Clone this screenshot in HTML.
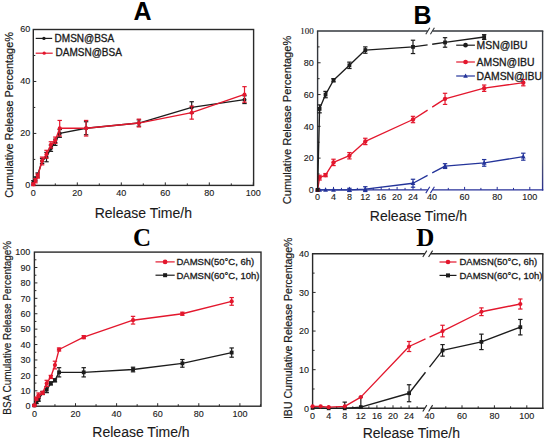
<!DOCTYPE html>
<html><head><meta charset="utf-8"><title>Release profiles</title>
<style>html,body{margin:0;padding:0;background:#fff;width:548px;height:442px;overflow:hidden}svg{display:block}</style>
</head><body>
<svg width="548" height="442" viewBox="0 0 548 442">
<rect width="548" height="442" fill="#ffffff"/>
<rect x="33.3" y="29.5" width="220.3" height="155.9" fill="none" stroke="#2a2a2a" stroke-width="1.4"/>
<line x1="33.3" y1="185.4" x2="33.3" y2="182.4" stroke="#2a2a2a" stroke-width="1.0" />
<line x1="77.3" y1="185.4" x2="77.3" y2="182.4" stroke="#2a2a2a" stroke-width="1.0" />
<line x1="121.3" y1="185.4" x2="121.3" y2="182.4" stroke="#2a2a2a" stroke-width="1.0" />
<line x1="165.3" y1="185.4" x2="165.3" y2="182.4" stroke="#2a2a2a" stroke-width="1.0" />
<line x1="209.3" y1="185.4" x2="209.3" y2="182.4" stroke="#2a2a2a" stroke-width="1.0" />
<line x1="253.3" y1="185.4" x2="253.3" y2="182.4" stroke="#2a2a2a" stroke-width="1.0" />
<line x1="55.3" y1="185.4" x2="55.3" y2="183.4" stroke="#2a2a2a" stroke-width="1.0" />
<line x1="99.3" y1="185.4" x2="99.3" y2="183.4" stroke="#2a2a2a" stroke-width="1.0" />
<line x1="143.3" y1="185.4" x2="143.3" y2="183.4" stroke="#2a2a2a" stroke-width="1.0" />
<line x1="187.3" y1="185.4" x2="187.3" y2="183.4" stroke="#2a2a2a" stroke-width="1.0" />
<line x1="231.3" y1="185.4" x2="231.3" y2="183.4" stroke="#2a2a2a" stroke-width="1.0" />
<line x1="33.3" y1="133.43" x2="36.3" y2="133.43" stroke="#2a2a2a" stroke-width="1.0" />
<line x1="33.3" y1="81.47" x2="36.3" y2="81.47" stroke="#2a2a2a" stroke-width="1.0" />
<line x1="33.3" y1="159.42" x2="35.3" y2="159.42" stroke="#2a2a2a" stroke-width="1.0" />
<line x1="33.3" y1="107.45" x2="35.3" y2="107.45" stroke="#2a2a2a" stroke-width="1.0" />
<line x1="33.3" y1="55.48" x2="35.3" y2="55.48" stroke="#2a2a2a" stroke-width="1.0" />
<text x="33.3" y="196.2" font-size="9" text-anchor="middle" font-family='"Liberation Sans", sans-serif' font-weight="normal" fill="#1a1a1a" stroke="#1a1a1a" stroke-width="0.12" >0</text>
<text x="77.3" y="196.2" font-size="9" text-anchor="middle" font-family='"Liberation Sans", sans-serif' font-weight="normal" fill="#1a1a1a" stroke="#1a1a1a" stroke-width="0.12" >20</text>
<text x="121.3" y="196.2" font-size="9" text-anchor="middle" font-family='"Liberation Sans", sans-serif' font-weight="normal" fill="#1a1a1a" stroke="#1a1a1a" stroke-width="0.12" >40</text>
<text x="165.3" y="196.2" font-size="9" text-anchor="middle" font-family='"Liberation Sans", sans-serif' font-weight="normal" fill="#1a1a1a" stroke="#1a1a1a" stroke-width="0.12" >60</text>
<text x="209.3" y="196.2" font-size="9" text-anchor="middle" font-family='"Liberation Sans", sans-serif' font-weight="normal" fill="#1a1a1a" stroke="#1a1a1a" stroke-width="0.12" >80</text>
<text x="253.3" y="196.2" font-size="9" text-anchor="middle" font-family='"Liberation Sans", sans-serif' font-weight="normal" fill="#1a1a1a" stroke="#1a1a1a" stroke-width="0.12" >100</text>
<text x="30.2" y="188.1" font-size="9" text-anchor="end" font-family='"Liberation Sans", sans-serif' font-weight="normal" fill="#1a1a1a" stroke="#1a1a1a" stroke-width="0.12" >0</text>
<text x="30.2" y="136.13" font-size="9" text-anchor="end" font-family='"Liberation Sans", sans-serif' font-weight="normal" fill="#1a1a1a" stroke="#1a1a1a" stroke-width="0.12" >20</text>
<text x="30.2" y="84.17" font-size="9" text-anchor="end" font-family='"Liberation Sans", sans-serif' font-weight="normal" fill="#1a1a1a" stroke="#1a1a1a" stroke-width="0.12" >40</text>
<text x="30.2" y="32.2" font-size="9" text-anchor="end" font-family='"Liberation Sans", sans-serif' font-weight="normal" fill="#1a1a1a" stroke="#1a1a1a" stroke-width="0.12" >60</text>
<text x="142.5" y="19.7" font-size="25" text-anchor="middle" font-family='"Liberation Sans", sans-serif' font-weight="bold" fill="#000" >A</text>
<text x="143.3" y="218.3" font-size="14" text-anchor="middle" font-family='"Liberation Sans", sans-serif' font-weight="normal" fill="#1a1a1a" stroke="#1a1a1a" stroke-width="0.1" >Release Time/h</text>
<text transform="translate(12.6,115) rotate(-90) scale(0.96,1)" font-size="11.34" text-anchor="middle" font-family='"Liberation Sans", sans-serif' fill="#1a1a1a" stroke="#1a1a1a" stroke-width="0.2">Cumulative Release Percentage%</text>
<polyline points="33.3,182.8 35.5,178.9 37.7,175.01 42.1,160.98 46.5,157.08 50.9,148.24 55.3,142.27 59.7,133.43 86.1,128.24 138.9,123.04 191.7,107.45 244.5,99.66" fill="none" stroke="#1c1c1c" stroke-width="1.35" stroke-linejoin="round"/>
<line x1="33.3" y1="184.88" x2="33.3" y2="180.72" stroke="#1c1c1c" stroke-width="1.2" />
<line x1="31.1" y1="184.88" x2="35.5" y2="184.88" stroke="#1c1c1c" stroke-width="1.2" />
<line x1="31.1" y1="180.72" x2="35.5" y2="180.72" stroke="#1c1c1c" stroke-width="1.2" />
<line x1="35.5" y1="180.98" x2="35.5" y2="176.83" stroke="#1c1c1c" stroke-width="1.2" />
<line x1="33.3" y1="180.98" x2="37.7" y2="180.98" stroke="#1c1c1c" stroke-width="1.2" />
<line x1="33.3" y1="176.83" x2="37.7" y2="176.83" stroke="#1c1c1c" stroke-width="1.2" />
<line x1="37.7" y1="177.09" x2="37.7" y2="172.93" stroke="#1c1c1c" stroke-width="1.2" />
<line x1="35.5" y1="177.09" x2="39.9" y2="177.09" stroke="#1c1c1c" stroke-width="1.2" />
<line x1="35.5" y1="172.93" x2="39.9" y2="172.93" stroke="#1c1c1c" stroke-width="1.2" />
<line x1="42.1" y1="163.57" x2="42.1" y2="158.38" stroke="#1c1c1c" stroke-width="1.2" />
<line x1="39.9" y1="163.57" x2="44.3" y2="163.57" stroke="#1c1c1c" stroke-width="1.2" />
<line x1="39.9" y1="158.38" x2="44.3" y2="158.38" stroke="#1c1c1c" stroke-width="1.2" />
<line x1="46.5" y1="161.76" x2="46.5" y2="152.4" stroke="#1c1c1c" stroke-width="1.2" />
<line x1="44.3" y1="161.76" x2="48.7" y2="161.76" stroke="#1c1c1c" stroke-width="1.2" />
<line x1="44.3" y1="152.4" x2="48.7" y2="152.4" stroke="#1c1c1c" stroke-width="1.2" />
<line x1="50.9" y1="151.36" x2="50.9" y2="145.13" stroke="#1c1c1c" stroke-width="1.2" />
<line x1="48.7" y1="151.36" x2="53.1" y2="151.36" stroke="#1c1c1c" stroke-width="1.2" />
<line x1="48.7" y1="145.13" x2="53.1" y2="145.13" stroke="#1c1c1c" stroke-width="1.2" />
<line x1="55.3" y1="145.39" x2="55.3" y2="139.15" stroke="#1c1c1c" stroke-width="1.2" />
<line x1="53.1" y1="145.39" x2="57.5" y2="145.39" stroke="#1c1c1c" stroke-width="1.2" />
<line x1="53.1" y1="139.15" x2="57.5" y2="139.15" stroke="#1c1c1c" stroke-width="1.2" />
<line x1="59.7" y1="137.33" x2="59.7" y2="129.54" stroke="#1c1c1c" stroke-width="1.2" />
<line x1="57.5" y1="137.33" x2="61.9" y2="137.33" stroke="#1c1c1c" stroke-width="1.2" />
<line x1="57.5" y1="129.54" x2="61.9" y2="129.54" stroke="#1c1c1c" stroke-width="1.2" />
<line x1="86.1" y1="134.73" x2="86.1" y2="121.74" stroke="#1c1c1c" stroke-width="1.2" />
<line x1="83.9" y1="134.73" x2="88.3" y2="134.73" stroke="#1c1c1c" stroke-width="1.2" />
<line x1="83.9" y1="121.74" x2="88.3" y2="121.74" stroke="#1c1c1c" stroke-width="1.2" />
<line x1="138.9" y1="126.16" x2="138.9" y2="119.92" stroke="#1c1c1c" stroke-width="1.2" />
<line x1="136.7" y1="126.16" x2="141.1" y2="126.16" stroke="#1c1c1c" stroke-width="1.2" />
<line x1="136.7" y1="119.92" x2="141.1" y2="119.92" stroke="#1c1c1c" stroke-width="1.2" />
<line x1="191.7" y1="113.17" x2="191.7" y2="101.73" stroke="#1c1c1c" stroke-width="1.2" />
<line x1="189.5" y1="113.17" x2="193.9" y2="113.17" stroke="#1c1c1c" stroke-width="1.2" />
<line x1="189.5" y1="101.73" x2="193.9" y2="101.73" stroke="#1c1c1c" stroke-width="1.2" />
<line x1="244.5" y1="103.55" x2="244.5" y2="95.76" stroke="#1c1c1c" stroke-width="1.2" />
<line x1="242.3" y1="103.55" x2="246.7" y2="103.55" stroke="#1c1c1c" stroke-width="1.2" />
<line x1="242.3" y1="95.76" x2="246.7" y2="95.76" stroke="#1c1c1c" stroke-width="1.2" />
<circle cx="33.3" cy="182.8" r="2.0" fill="#1c1c1c"/>
<circle cx="35.5" cy="178.9" r="2.0" fill="#1c1c1c"/>
<circle cx="37.7" cy="175.01" r="2.0" fill="#1c1c1c"/>
<circle cx="42.1" cy="160.98" r="2.0" fill="#1c1c1c"/>
<circle cx="46.5" cy="157.08" r="2.0" fill="#1c1c1c"/>
<circle cx="50.9" cy="148.24" r="2.0" fill="#1c1c1c"/>
<circle cx="55.3" cy="142.27" r="2.0" fill="#1c1c1c"/>
<circle cx="59.7" cy="133.43" r="2.0" fill="#1c1c1c"/>
<circle cx="86.1" cy="128.24" r="2.0" fill="#1c1c1c"/>
<circle cx="138.9" cy="123.04" r="2.0" fill="#1c1c1c"/>
<circle cx="191.7" cy="107.45" r="2.0" fill="#1c1c1c"/>
<circle cx="244.5" cy="99.66" r="2.0" fill="#1c1c1c"/>
<polyline points="33.3,184.36 35.5,180.72 37.7,176.05 42.1,160.98 46.5,154.22 50.9,144.87 55.3,140.19 59.7,128.24 86.1,128.24 138.9,123.04 191.7,112.65 244.5,94.46" fill="none" stroke="#e3172d" stroke-width="1.35" stroke-linejoin="round"/>
<line x1="33.3" y1="185.66" x2="33.3" y2="183.06" stroke="#e3172d" stroke-width="1.2" />
<line x1="31.1" y1="185.66" x2="35.5" y2="185.66" stroke="#e3172d" stroke-width="1.2" />
<line x1="31.1" y1="183.06" x2="35.5" y2="183.06" stroke="#e3172d" stroke-width="1.2" />
<line x1="35.5" y1="182.8" x2="35.5" y2="178.64" stroke="#e3172d" stroke-width="1.2" />
<line x1="33.3" y1="182.8" x2="37.7" y2="182.8" stroke="#e3172d" stroke-width="1.2" />
<line x1="33.3" y1="178.64" x2="37.7" y2="178.64" stroke="#e3172d" stroke-width="1.2" />
<line x1="37.7" y1="178.12" x2="37.7" y2="173.97" stroke="#e3172d" stroke-width="1.2" />
<line x1="35.5" y1="178.12" x2="39.9" y2="178.12" stroke="#e3172d" stroke-width="1.2" />
<line x1="35.5" y1="173.97" x2="39.9" y2="173.97" stroke="#e3172d" stroke-width="1.2" />
<line x1="42.1" y1="164.87" x2="42.1" y2="157.08" stroke="#e3172d" stroke-width="1.2" />
<line x1="39.9" y1="164.87" x2="44.3" y2="164.87" stroke="#e3172d" stroke-width="1.2" />
<line x1="39.9" y1="157.08" x2="44.3" y2="157.08" stroke="#e3172d" stroke-width="1.2" />
<line x1="46.5" y1="158.12" x2="46.5" y2="150.32" stroke="#e3172d" stroke-width="1.2" />
<line x1="44.3" y1="158.12" x2="48.7" y2="158.12" stroke="#e3172d" stroke-width="1.2" />
<line x1="44.3" y1="150.32" x2="48.7" y2="150.32" stroke="#e3172d" stroke-width="1.2" />
<line x1="50.9" y1="147.98" x2="50.9" y2="141.75" stroke="#e3172d" stroke-width="1.2" />
<line x1="48.7" y1="147.98" x2="53.1" y2="147.98" stroke="#e3172d" stroke-width="1.2" />
<line x1="48.7" y1="141.75" x2="53.1" y2="141.75" stroke="#e3172d" stroke-width="1.2" />
<line x1="55.3" y1="143.31" x2="55.3" y2="137.07" stroke="#e3172d" stroke-width="1.2" />
<line x1="53.1" y1="143.31" x2="57.5" y2="143.31" stroke="#e3172d" stroke-width="1.2" />
<line x1="53.1" y1="137.07" x2="57.5" y2="137.07" stroke="#e3172d" stroke-width="1.2" />
<line x1="59.7" y1="136.03" x2="59.7" y2="120.44" stroke="#e3172d" stroke-width="1.2" />
<line x1="57.5" y1="136.03" x2="61.9" y2="136.03" stroke="#e3172d" stroke-width="1.2" />
<line x1="57.5" y1="120.44" x2="61.9" y2="120.44" stroke="#e3172d" stroke-width="1.2" />
<line x1="86.1" y1="136.03" x2="86.1" y2="120.44" stroke="#e3172d" stroke-width="1.2" />
<line x1="83.9" y1="136.03" x2="88.3" y2="136.03" stroke="#e3172d" stroke-width="1.2" />
<line x1="83.9" y1="120.44" x2="88.3" y2="120.44" stroke="#e3172d" stroke-width="1.2" />
<line x1="138.9" y1="126.94" x2="138.9" y2="119.14" stroke="#e3172d" stroke-width="1.2" />
<line x1="136.7" y1="126.94" x2="141.1" y2="126.94" stroke="#e3172d" stroke-width="1.2" />
<line x1="136.7" y1="119.14" x2="141.1" y2="119.14" stroke="#e3172d" stroke-width="1.2" />
<line x1="191.7" y1="119.14" x2="191.7" y2="106.15" stroke="#e3172d" stroke-width="1.2" />
<line x1="189.5" y1="119.14" x2="193.9" y2="119.14" stroke="#e3172d" stroke-width="1.2" />
<line x1="189.5" y1="106.15" x2="193.9" y2="106.15" stroke="#e3172d" stroke-width="1.2" />
<line x1="244.5" y1="102.25" x2="244.5" y2="86.66" stroke="#e3172d" stroke-width="1.2" />
<line x1="242.3" y1="102.25" x2="246.7" y2="102.25" stroke="#e3172d" stroke-width="1.2" />
<line x1="242.3" y1="86.66" x2="246.7" y2="86.66" stroke="#e3172d" stroke-width="1.2" />
<circle cx="33.3" cy="184.36" r="2.0" fill="#e3172d"/>
<circle cx="35.5" cy="180.72" r="2.0" fill="#e3172d"/>
<circle cx="37.7" cy="176.05" r="2.0" fill="#e3172d"/>
<circle cx="42.1" cy="160.98" r="2.0" fill="#e3172d"/>
<circle cx="46.5" cy="154.22" r="2.0" fill="#e3172d"/>
<circle cx="50.9" cy="144.87" r="2.0" fill="#e3172d"/>
<circle cx="55.3" cy="140.19" r="2.0" fill="#e3172d"/>
<circle cx="59.7" cy="128.24" r="2.0" fill="#e3172d"/>
<circle cx="86.1" cy="128.24" r="2.0" fill="#e3172d"/>
<circle cx="138.9" cy="123.04" r="2.0" fill="#e3172d"/>
<circle cx="191.7" cy="112.65" r="2.0" fill="#e3172d"/>
<circle cx="244.5" cy="94.46" r="2.0" fill="#e3172d"/>
<line x1="35.7" y1="38.4" x2="52.2" y2="38.4" stroke="#1c1c1c" stroke-width="1.2" />
<circle cx="43.95" cy="38.4" r="1.65" fill="#1c1c1c"/>
<text x="54.6" y="41.6" font-size="10.0" text-anchor="start" font-family='"Liberation Sans", sans-serif' font-weight="normal" fill="#1a1a1a" stroke="#1a1a1a" stroke-width="0.3" >DMSN@BSA</text>
<line x1="35.7" y1="53.2" x2="52.7" y2="53.2" stroke="#e3172d" stroke-width="1.2" />
<circle cx="44.2" cy="53.2" r="1.65" fill="#e3172d"/>
<text x="55.6" y="56.4" font-size="10.0" text-anchor="start" font-family='"Liberation Sans", sans-serif' font-weight="normal" fill="#1a1a1a" stroke="#1a1a1a" stroke-width="0.3" >DAMSN@BSA</text>
<defs><linearGradient id="gr" gradientUnits="userSpaceOnUse" x1="0" y1="31" x2="0" y2="190"><stop offset="0" stop-color="#3a3e44"/><stop offset="0.78" stop-color="#55595f"/><stop offset="1" stop-color="#2a3090"/></linearGradient></defs>
<line x1="317.6" y1="31" x2="317.6" y2="189.9" stroke="#33373c" stroke-width="1.4" />
<line x1="542.6" y1="31" x2="542.6" y2="190.6" stroke="url(#gr)" stroke-width="1.4" />
<line x1="316.9" y1="31" x2="427.8" y2="31" stroke="#33373c" stroke-width="1.4" />
<line x1="432.4" y1="31" x2="543.3" y2="31" stroke="#33373c" stroke-width="1.4" />
<line x1="425.8" y1="34.2" x2="429.8" y2="27.8" stroke="#33373c" stroke-width="1.1"/>
<line x1="430.4" y1="34.2" x2="434.4" y2="27.8" stroke="#33373c" stroke-width="1.1"/>
<line x1="316.9" y1="189.9" x2="427.8" y2="189.9" stroke="#27309a" stroke-width="1.4" />
<line x1="432.4" y1="189.9" x2="543.3" y2="189.9" stroke="#27309a" stroke-width="1.4" />
<line x1="425.8" y1="193.1" x2="429.8" y2="186.7" stroke="#27309a" stroke-width="1.1"/>
<line x1="430.4" y1="193.1" x2="434.4" y2="186.7" stroke="#27309a" stroke-width="1.1"/>
<line x1="333.5" y1="189.9" x2="333.5" y2="186.9" stroke="#27309a" stroke-width="1.0" />
<line x1="349.4" y1="189.9" x2="349.4" y2="186.9" stroke="#27309a" stroke-width="1.0" />
<line x1="365.3" y1="189.9" x2="365.3" y2="186.9" stroke="#27309a" stroke-width="1.0" />
<line x1="381.2" y1="189.9" x2="381.2" y2="186.9" stroke="#27309a" stroke-width="1.0" />
<line x1="397.1" y1="189.9" x2="397.1" y2="186.9" stroke="#27309a" stroke-width="1.0" />
<line x1="413" y1="189.9" x2="413" y2="186.9" stroke="#27309a" stroke-width="1.0" />
<line x1="464.6" y1="189.9" x2="464.6" y2="186.9" stroke="#27309a" stroke-width="1.0" />
<line x1="497.2" y1="189.9" x2="497.2" y2="186.9" stroke="#27309a" stroke-width="1.0" />
<line x1="529.8" y1="189.9" x2="529.8" y2="186.9" stroke="#27309a" stroke-width="1.0" />
<line x1="325.55" y1="189.9" x2="325.55" y2="187.9" stroke="#27309a" stroke-width="1.0" />
<line x1="341.45" y1="189.9" x2="341.45" y2="187.9" stroke="#27309a" stroke-width="1.0" />
<line x1="357.35" y1="189.9" x2="357.35" y2="187.9" stroke="#27309a" stroke-width="1.0" />
<line x1="373.25" y1="189.9" x2="373.25" y2="187.9" stroke="#27309a" stroke-width="1.0" />
<line x1="389.15" y1="189.9" x2="389.15" y2="187.9" stroke="#27309a" stroke-width="1.0" />
<line x1="405.05" y1="189.9" x2="405.05" y2="187.9" stroke="#27309a" stroke-width="1.0" />
<line x1="420.95" y1="189.9" x2="420.95" y2="187.9" stroke="#27309a" stroke-width="1.0" />
<line x1="448.3" y1="189.9" x2="448.3" y2="187.9" stroke="#27309a" stroke-width="1.0" />
<line x1="480.9" y1="189.9" x2="480.9" y2="187.9" stroke="#27309a" stroke-width="1.0" />
<line x1="513.5" y1="189.9" x2="513.5" y2="187.9" stroke="#27309a" stroke-width="1.0" />
<line x1="317.6" y1="158.12" x2="320.6" y2="158.12" stroke="#2a2a2a" stroke-width="1.0" />
<line x1="317.6" y1="126.34" x2="320.6" y2="126.34" stroke="#2a2a2a" stroke-width="1.0" />
<line x1="317.6" y1="94.56" x2="320.6" y2="94.56" stroke="#2a2a2a" stroke-width="1.0" />
<line x1="317.6" y1="62.78" x2="320.6" y2="62.78" stroke="#2a2a2a" stroke-width="1.0" />
<line x1="317.6" y1="174.01" x2="319.6" y2="174.01" stroke="#2a2a2a" stroke-width="1.0" />
<line x1="317.6" y1="142.23" x2="319.6" y2="142.23" stroke="#2a2a2a" stroke-width="1.0" />
<line x1="317.6" y1="110.45" x2="319.6" y2="110.45" stroke="#2a2a2a" stroke-width="1.0" />
<line x1="317.6" y1="78.67" x2="319.6" y2="78.67" stroke="#2a2a2a" stroke-width="1.0" />
<line x1="317.6" y1="46.89" x2="319.6" y2="46.89" stroke="#2a2a2a" stroke-width="1.0" />
<text x="317.6" y="199.6" font-size="9" text-anchor="middle" font-family='"Liberation Sans", sans-serif' font-weight="normal" fill="#1a1a1a" stroke="#1a1a1a" stroke-width="0.12" >0</text>
<text x="333.5" y="199.6" font-size="9" text-anchor="middle" font-family='"Liberation Sans", sans-serif' font-weight="normal" fill="#1a1a1a" stroke="#1a1a1a" stroke-width="0.12" >4</text>
<text x="349.4" y="199.6" font-size="9" text-anchor="middle" font-family='"Liberation Sans", sans-serif' font-weight="normal" fill="#1a1a1a" stroke="#1a1a1a" stroke-width="0.12" >8</text>
<text x="365.3" y="199.6" font-size="9" text-anchor="middle" font-family='"Liberation Sans", sans-serif' font-weight="normal" fill="#1a1a1a" stroke="#1a1a1a" stroke-width="0.12" >12</text>
<text x="381.2" y="199.6" font-size="9" text-anchor="middle" font-family='"Liberation Sans", sans-serif' font-weight="normal" fill="#1a1a1a" stroke="#1a1a1a" stroke-width="0.12" >16</text>
<text x="397.1" y="199.6" font-size="9" text-anchor="middle" font-family='"Liberation Sans", sans-serif' font-weight="normal" fill="#1a1a1a" stroke="#1a1a1a" stroke-width="0.12" >20</text>
<text x="413" y="199.6" font-size="9" text-anchor="middle" font-family='"Liberation Sans", sans-serif' font-weight="normal" fill="#1a1a1a" stroke="#1a1a1a" stroke-width="0.12" >24</text>
<text x="432" y="199.6" font-size="9" text-anchor="middle" font-family='"Liberation Sans", sans-serif' font-weight="normal" fill="#1a1a1a" stroke="#1a1a1a" stroke-width="0.12" >40</text>
<text x="464.6" y="199.6" font-size="9" text-anchor="middle" font-family='"Liberation Sans", sans-serif' font-weight="normal" fill="#1a1a1a" stroke="#1a1a1a" stroke-width="0.12" >60</text>
<text x="497.2" y="199.6" font-size="9" text-anchor="middle" font-family='"Liberation Sans", sans-serif' font-weight="normal" fill="#1a1a1a" stroke="#1a1a1a" stroke-width="0.12" >80</text>
<text x="529.8" y="199.6" font-size="9" text-anchor="middle" font-family='"Liberation Sans", sans-serif' font-weight="normal" fill="#1a1a1a" stroke="#1a1a1a" stroke-width="0.12" >100</text>
<text x="313.8" y="193.1" font-size="9" text-anchor="end" font-family='"Liberation Sans", sans-serif' font-weight="normal" fill="#1a1a1a" stroke="#1a1a1a" stroke-width="0.12" >0</text>
<text x="313.8" y="161.32" font-size="9" text-anchor="end" font-family='"Liberation Sans", sans-serif' font-weight="normal" fill="#1a1a1a" stroke="#1a1a1a" stroke-width="0.12" >20</text>
<text x="313.8" y="129.54" font-size="9" text-anchor="end" font-family='"Liberation Sans", sans-serif' font-weight="normal" fill="#1a1a1a" stroke="#1a1a1a" stroke-width="0.12" >40</text>
<text x="313.8" y="97.76" font-size="9" text-anchor="end" font-family='"Liberation Sans", sans-serif' font-weight="normal" fill="#1a1a1a" stroke="#1a1a1a" stroke-width="0.12" >60</text>
<text x="313.8" y="65.98" font-size="9" text-anchor="end" font-family='"Liberation Sans", sans-serif' font-weight="normal" fill="#1a1a1a" stroke="#1a1a1a" stroke-width="0.12" >80</text>
<text x="313.8" y="34.2" font-size="9" text-anchor="end" font-family='"Liberation Serif", serif' font-weight="normal" fill="#1a1a1a" stroke="#1a1a1a" stroke-width="0.12" >100</text>
<text x="422.5" y="24.1" font-size="25" text-anchor="middle" font-family='"Liberation Sans", sans-serif' font-weight="bold" fill="#000" >B</text>
<text x="418.5" y="220.7" font-size="14" text-anchor="middle" font-family='"Liberation Sans", sans-serif' font-weight="normal" fill="#1a1a1a" stroke="#1a1a1a" stroke-width="0.1" >Release Time/h</text>
<text transform="translate(291.2,120) rotate(-90) scale(0.96,1)" font-size="11.54" text-anchor="middle" font-family='"Liberation Sans", sans-serif' fill="#1a1a1a" stroke="#1a1a1a" stroke-width="0.2">Cumulative Release Percentage%</text>
<polyline points="317.6,189.9 319.59,189.9 325.55,189.9 333.5,189.9 349.4,189.9 365.3,189.11 413,183.23 427.6,175.41" fill="none" stroke="#24349a" stroke-width="1.35" stroke-linejoin="round"/>
<polyline points="432.2,172.94 445.04,166.06 484.16,162.89 523.28,156.69" fill="none" stroke="#24349a" stroke-width="1.35" stroke-linejoin="round"/>
<line x1="349.4" y1="191.49" x2="349.4" y2="188.31" stroke="#24349a" stroke-width="1.2" />
<line x1="347.2" y1="191.49" x2="351.6" y2="191.49" stroke="#24349a" stroke-width="1.2" />
<line x1="347.2" y1="188.31" x2="351.6" y2="188.31" stroke="#24349a" stroke-width="1.2" />
<line x1="365.3" y1="191.49" x2="365.3" y2="186.72" stroke="#24349a" stroke-width="1.2" />
<line x1="363.1" y1="191.49" x2="367.5" y2="191.49" stroke="#24349a" stroke-width="1.2" />
<line x1="363.1" y1="186.72" x2="367.5" y2="186.72" stroke="#24349a" stroke-width="1.2" />
<line x1="413" y1="187.2" x2="413" y2="179.25" stroke="#24349a" stroke-width="1.2" />
<line x1="410.8" y1="187.2" x2="415.2" y2="187.2" stroke="#24349a" stroke-width="1.2" />
<line x1="410.8" y1="179.25" x2="415.2" y2="179.25" stroke="#24349a" stroke-width="1.2" />
<line x1="445.04" y1="168.45" x2="445.04" y2="163.68" stroke="#24349a" stroke-width="1.2" />
<line x1="442.84" y1="168.45" x2="447.24" y2="168.45" stroke="#24349a" stroke-width="1.2" />
<line x1="442.84" y1="163.68" x2="447.24" y2="163.68" stroke="#24349a" stroke-width="1.2" />
<line x1="484.16" y1="166.22" x2="484.16" y2="159.55" stroke="#24349a" stroke-width="1.2" />
<line x1="481.96" y1="166.22" x2="486.36" y2="166.22" stroke="#24349a" stroke-width="1.2" />
<line x1="481.96" y1="159.55" x2="486.36" y2="159.55" stroke="#24349a" stroke-width="1.2" />
<line x1="523.28" y1="160.19" x2="523.28" y2="153.19" stroke="#24349a" stroke-width="1.2" />
<line x1="521.08" y1="160.19" x2="525.48" y2="160.19" stroke="#24349a" stroke-width="1.2" />
<line x1="521.08" y1="153.19" x2="525.48" y2="153.19" stroke="#24349a" stroke-width="1.2" />
<polygon points="317.6,187.19 320,191.75 315.2,191.75" fill="#24349a"/>
<polygon points="319.59,187.19 321.99,191.75 317.19,191.75" fill="#24349a"/>
<polygon points="325.55,187.19 327.95,191.75 323.15,191.75" fill="#24349a"/>
<polygon points="333.5,187.19 335.9,191.75 331.1,191.75" fill="#24349a"/>
<polygon points="349.4,187.19 351.8,191.75 347,191.75" fill="#24349a"/>
<polygon points="365.3,186.4 367.7,190.95 362.9,190.95" fill="#24349a"/>
<polygon points="413,180.52 415.4,185.07 410.6,185.07" fill="#24349a"/>
<polygon points="445.04,163.35 447.44,167.91 442.64,167.91" fill="#24349a"/>
<polygon points="484.16,160.18 486.56,164.74 481.76,164.74" fill="#24349a"/>
<polygon points="523.28,153.98 525.68,158.54 520.88,158.54" fill="#24349a"/>
<polyline points="317.6,189.9 319.59,177.66 325.55,175.12 333.5,162.41 349.4,155.74 365.3,141.44 413,119.51 427.6,110.09" fill="none" stroke="#e3172d" stroke-width="1.35" stroke-linejoin="round"/>
<polyline points="432.2,107.13 445.04,98.85 484.16,88.2 523.28,82.64" fill="none" stroke="#e3172d" stroke-width="1.35" stroke-linejoin="round"/>
<line x1="319.59" y1="180.05" x2="319.59" y2="175.28" stroke="#e3172d" stroke-width="1.2" />
<line x1="317.39" y1="180.05" x2="321.79" y2="180.05" stroke="#e3172d" stroke-width="1.2" />
<line x1="317.39" y1="175.28" x2="321.79" y2="175.28" stroke="#e3172d" stroke-width="1.2" />
<line x1="325.55" y1="176.71" x2="325.55" y2="173.53" stroke="#e3172d" stroke-width="1.2" />
<line x1="323.35" y1="176.71" x2="327.75" y2="176.71" stroke="#e3172d" stroke-width="1.2" />
<line x1="323.35" y1="173.53" x2="327.75" y2="173.53" stroke="#e3172d" stroke-width="1.2" />
<line x1="333.5" y1="165.59" x2="333.5" y2="159.23" stroke="#e3172d" stroke-width="1.2" />
<line x1="331.3" y1="165.59" x2="335.7" y2="165.59" stroke="#e3172d" stroke-width="1.2" />
<line x1="331.3" y1="159.23" x2="335.7" y2="159.23" stroke="#e3172d" stroke-width="1.2" />
<line x1="349.4" y1="158.91" x2="349.4" y2="152.56" stroke="#e3172d" stroke-width="1.2" />
<line x1="347.2" y1="158.91" x2="351.6" y2="158.91" stroke="#e3172d" stroke-width="1.2" />
<line x1="347.2" y1="152.56" x2="351.6" y2="152.56" stroke="#e3172d" stroke-width="1.2" />
<line x1="365.3" y1="144.61" x2="365.3" y2="138.26" stroke="#e3172d" stroke-width="1.2" />
<line x1="363.1" y1="144.61" x2="367.5" y2="144.61" stroke="#e3172d" stroke-width="1.2" />
<line x1="363.1" y1="138.26" x2="367.5" y2="138.26" stroke="#e3172d" stroke-width="1.2" />
<line x1="413" y1="122.69" x2="413" y2="116.33" stroke="#e3172d" stroke-width="1.2" />
<line x1="410.8" y1="122.69" x2="415.2" y2="122.69" stroke="#e3172d" stroke-width="1.2" />
<line x1="410.8" y1="116.33" x2="415.2" y2="116.33" stroke="#e3172d" stroke-width="1.2" />
<line x1="445.04" y1="104.41" x2="445.04" y2="93.29" stroke="#e3172d" stroke-width="1.2" />
<line x1="442.84" y1="104.41" x2="447.24" y2="104.41" stroke="#e3172d" stroke-width="1.2" />
<line x1="442.84" y1="93.29" x2="447.24" y2="93.29" stroke="#e3172d" stroke-width="1.2" />
<line x1="484.16" y1="91.38" x2="484.16" y2="85.03" stroke="#e3172d" stroke-width="1.2" />
<line x1="481.96" y1="91.38" x2="486.36" y2="91.38" stroke="#e3172d" stroke-width="1.2" />
<line x1="481.96" y1="85.03" x2="486.36" y2="85.03" stroke="#e3172d" stroke-width="1.2" />
<line x1="523.28" y1="85.82" x2="523.28" y2="79.46" stroke="#e3172d" stroke-width="1.2" />
<line x1="521.08" y1="85.82" x2="525.48" y2="85.82" stroke="#e3172d" stroke-width="1.2" />
<line x1="521.08" y1="79.46" x2="525.48" y2="79.46" stroke="#e3172d" stroke-width="1.2" />
<circle cx="317.6" cy="189.9" r="2.2" fill="#e3172d"/>
<circle cx="319.59" cy="177.66" r="2.2" fill="#e3172d"/>
<circle cx="325.55" cy="175.12" r="2.2" fill="#e3172d"/>
<circle cx="333.5" cy="162.41" r="2.2" fill="#e3172d"/>
<circle cx="349.4" cy="155.74" r="2.2" fill="#e3172d"/>
<circle cx="365.3" cy="141.44" r="2.2" fill="#e3172d"/>
<circle cx="413" cy="119.51" r="2.2" fill="#e3172d"/>
<circle cx="445.04" cy="98.85" r="2.2" fill="#e3172d"/>
<circle cx="484.16" cy="88.2" r="2.2" fill="#e3172d"/>
<circle cx="523.28" cy="82.64" r="2.2" fill="#e3172d"/>
<polyline points="317.6,189.9 319.59,108.86 325.55,94.56 333.5,80.26 349.4,65.32 365.3,50.07 413,46.89 427.6,44.86" fill="none" stroke="#1c1c1c" stroke-width="1.35" stroke-linejoin="round"/>
<polyline points="432.2,44.22 445.04,42.44 484.16,37.04" fill="none" stroke="#1c1c1c" stroke-width="1.35" stroke-linejoin="round"/>
<line x1="319.59" y1="112.83" x2="319.59" y2="104.89" stroke="#1c1c1c" stroke-width="1.2" />
<line x1="317.39" y1="112.83" x2="321.79" y2="112.83" stroke="#1c1c1c" stroke-width="1.2" />
<line x1="317.39" y1="104.89" x2="321.79" y2="104.89" stroke="#1c1c1c" stroke-width="1.2" />
<line x1="325.55" y1="97.74" x2="325.55" y2="91.38" stroke="#1c1c1c" stroke-width="1.2" />
<line x1="323.35" y1="97.74" x2="327.75" y2="97.74" stroke="#1c1c1c" stroke-width="1.2" />
<line x1="323.35" y1="91.38" x2="327.75" y2="91.38" stroke="#1c1c1c" stroke-width="1.2" />
<line x1="333.5" y1="81.85" x2="333.5" y2="78.67" stroke="#1c1c1c" stroke-width="1.2" />
<line x1="331.3" y1="81.85" x2="335.7" y2="81.85" stroke="#1c1c1c" stroke-width="1.2" />
<line x1="331.3" y1="78.67" x2="335.7" y2="78.67" stroke="#1c1c1c" stroke-width="1.2" />
<line x1="349.4" y1="68.5" x2="349.4" y2="62.14" stroke="#1c1c1c" stroke-width="1.2" />
<line x1="347.2" y1="68.5" x2="351.6" y2="68.5" stroke="#1c1c1c" stroke-width="1.2" />
<line x1="347.2" y1="62.14" x2="351.6" y2="62.14" stroke="#1c1c1c" stroke-width="1.2" />
<line x1="365.3" y1="53.25" x2="365.3" y2="46.89" stroke="#1c1c1c" stroke-width="1.2" />
<line x1="363.1" y1="53.25" x2="367.5" y2="53.25" stroke="#1c1c1c" stroke-width="1.2" />
<line x1="363.1" y1="46.89" x2="367.5" y2="46.89" stroke="#1c1c1c" stroke-width="1.2" />
<line x1="413" y1="53.56" x2="413" y2="40.22" stroke="#1c1c1c" stroke-width="1.2" />
<line x1="410.8" y1="53.56" x2="415.2" y2="53.56" stroke="#1c1c1c" stroke-width="1.2" />
<line x1="410.8" y1="40.22" x2="415.2" y2="40.22" stroke="#1c1c1c" stroke-width="1.2" />
<line x1="445.04" y1="47.21" x2="445.04" y2="37.67" stroke="#1c1c1c" stroke-width="1.2" />
<line x1="442.84" y1="47.21" x2="447.24" y2="47.21" stroke="#1c1c1c" stroke-width="1.2" />
<line x1="442.84" y1="37.67" x2="447.24" y2="37.67" stroke="#1c1c1c" stroke-width="1.2" />
<line x1="484.16" y1="39.42" x2="484.16" y2="34.65" stroke="#1c1c1c" stroke-width="1.2" />
<line x1="481.96" y1="39.42" x2="486.36" y2="39.42" stroke="#1c1c1c" stroke-width="1.2" />
<line x1="481.96" y1="34.65" x2="486.36" y2="34.65" stroke="#1c1c1c" stroke-width="1.2" />
<rect x="315.7" y="188" width="3.8" height="3.8" fill="#1c1c1c"/>
<rect x="317.69" y="106.96" width="3.8" height="3.8" fill="#1c1c1c"/>
<rect x="323.65" y="92.66" width="3.8" height="3.8" fill="#1c1c1c"/>
<rect x="331.6" y="78.36" width="3.8" height="3.8" fill="#1c1c1c"/>
<rect x="347.5" y="63.42" width="3.8" height="3.8" fill="#1c1c1c"/>
<rect x="363.4" y="48.17" width="3.8" height="3.8" fill="#1c1c1c"/>
<rect x="411.1" y="44.99" width="3.8" height="3.8" fill="#1c1c1c"/>
<rect x="443.14" y="40.54" width="3.8" height="3.8" fill="#1c1c1c"/>
<rect x="482.26" y="35.14" width="3.8" height="3.8" fill="#1c1c1c"/>
<line x1="456.2" y1="45.2" x2="474.9" y2="45.2" stroke="#1c1c1c" stroke-width="1.2" />
<circle cx="465.55" cy="45.2" r="2.35" fill="#1c1c1c"/>
<text x="476.6" y="48.74" font-size="10.4" text-anchor="start" font-family='"Liberation Sans", sans-serif' font-weight="normal" fill="#1a1a1a" stroke="#1a1a1a" stroke-width="0.3" >MSN@IBU</text>
<line x1="456.2" y1="62" x2="474.9" y2="62" stroke="#e3172d" stroke-width="1.2" />
<circle cx="465.55" cy="62" r="2.35" fill="#e3172d"/>
<text x="476.6" y="65.54" font-size="10.4" text-anchor="start" font-family='"Liberation Sans", sans-serif' font-weight="normal" fill="#1a1a1a" stroke="#1a1a1a" stroke-width="0.3" >AMSN@IBU</text>
<line x1="456.2" y1="76" x2="474.9" y2="76" stroke="#24349a" stroke-width="1.2" />
<polygon points="465.55,73.4 467.85,77.76 463.25,77.76" fill="#24349a"/>
<text x="476.6" y="79.54" font-size="10.4" text-anchor="start" font-family='"Liberation Sans", sans-serif' font-weight="normal" fill="#1a1a1a" stroke="#1a1a1a" stroke-width="0.3" >DAMSN@IBU</text>
<rect x="34.4" y="252.1" width="226.6" height="154.1" fill="none" stroke="#2a2a2a" stroke-width="1.4"/>
<line x1="75.5" y1="406.2" x2="75.5" y2="403.2" stroke="#2a2a2a" stroke-width="1.0" />
<line x1="116.6" y1="406.2" x2="116.6" y2="403.2" stroke="#2a2a2a" stroke-width="1.0" />
<line x1="157.7" y1="406.2" x2="157.7" y2="403.2" stroke="#2a2a2a" stroke-width="1.0" />
<line x1="198.8" y1="406.2" x2="198.8" y2="403.2" stroke="#2a2a2a" stroke-width="1.0" />
<line x1="239.9" y1="406.2" x2="239.9" y2="403.2" stroke="#2a2a2a" stroke-width="1.0" />
<line x1="54.95" y1="406.2" x2="54.95" y2="404.2" stroke="#2a2a2a" stroke-width="1.0" />
<line x1="96.05" y1="406.2" x2="96.05" y2="404.2" stroke="#2a2a2a" stroke-width="1.0" />
<line x1="137.15" y1="406.2" x2="137.15" y2="404.2" stroke="#2a2a2a" stroke-width="1.0" />
<line x1="178.25" y1="406.2" x2="178.25" y2="404.2" stroke="#2a2a2a" stroke-width="1.0" />
<line x1="219.35" y1="406.2" x2="219.35" y2="404.2" stroke="#2a2a2a" stroke-width="1.0" />
<line x1="260.45" y1="406.2" x2="260.45" y2="404.2" stroke="#2a2a2a" stroke-width="1.0" />
<line x1="34.4" y1="390.79" x2="37.4" y2="390.79" stroke="#2a2a2a" stroke-width="1.0" />
<line x1="34.4" y1="375.38" x2="37.4" y2="375.38" stroke="#2a2a2a" stroke-width="1.0" />
<line x1="34.4" y1="359.97" x2="37.4" y2="359.97" stroke="#2a2a2a" stroke-width="1.0" />
<line x1="34.4" y1="344.56" x2="37.4" y2="344.56" stroke="#2a2a2a" stroke-width="1.0" />
<line x1="34.4" y1="329.15" x2="37.4" y2="329.15" stroke="#2a2a2a" stroke-width="1.0" />
<line x1="34.4" y1="313.74" x2="37.4" y2="313.74" stroke="#2a2a2a" stroke-width="1.0" />
<line x1="34.4" y1="298.33" x2="37.4" y2="298.33" stroke="#2a2a2a" stroke-width="1.0" />
<line x1="34.4" y1="282.92" x2="37.4" y2="282.92" stroke="#2a2a2a" stroke-width="1.0" />
<line x1="34.4" y1="267.51" x2="37.4" y2="267.51" stroke="#2a2a2a" stroke-width="1.0" />
<line x1="34.4" y1="398.5" x2="36.4" y2="398.5" stroke="#2a2a2a" stroke-width="1.0" />
<line x1="34.4" y1="383.08" x2="36.4" y2="383.08" stroke="#2a2a2a" stroke-width="1.0" />
<line x1="34.4" y1="367.68" x2="36.4" y2="367.68" stroke="#2a2a2a" stroke-width="1.0" />
<line x1="34.4" y1="352.26" x2="36.4" y2="352.26" stroke="#2a2a2a" stroke-width="1.0" />
<line x1="34.4" y1="336.86" x2="36.4" y2="336.86" stroke="#2a2a2a" stroke-width="1.0" />
<line x1="34.4" y1="321.44" x2="36.4" y2="321.44" stroke="#2a2a2a" stroke-width="1.0" />
<line x1="34.4" y1="306.03" x2="36.4" y2="306.03" stroke="#2a2a2a" stroke-width="1.0" />
<line x1="34.4" y1="290.62" x2="36.4" y2="290.62" stroke="#2a2a2a" stroke-width="1.0" />
<line x1="34.4" y1="275.21" x2="36.4" y2="275.21" stroke="#2a2a2a" stroke-width="1.0" />
<line x1="34.4" y1="259.8" x2="36.4" y2="259.8" stroke="#2a2a2a" stroke-width="1.0" />
<text x="34.4" y="417.4" font-size="9" text-anchor="middle" font-family='"Liberation Sans", sans-serif' font-weight="normal" fill="#1a1a1a" stroke="#1a1a1a" stroke-width="0.12" >0</text>
<text x="75.5" y="417.4" font-size="9" text-anchor="middle" font-family='"Liberation Sans", sans-serif' font-weight="normal" fill="#1a1a1a" stroke="#1a1a1a" stroke-width="0.12" >20</text>
<text x="116.6" y="417.4" font-size="9" text-anchor="middle" font-family='"Liberation Sans", sans-serif' font-weight="normal" fill="#1a1a1a" stroke="#1a1a1a" stroke-width="0.12" >40</text>
<text x="157.7" y="417.4" font-size="9" text-anchor="middle" font-family='"Liberation Sans", sans-serif' font-weight="normal" fill="#1a1a1a" stroke="#1a1a1a" stroke-width="0.12" >60</text>
<text x="198.8" y="417.4" font-size="9" text-anchor="middle" font-family='"Liberation Sans", sans-serif' font-weight="normal" fill="#1a1a1a" stroke="#1a1a1a" stroke-width="0.12" >80</text>
<text x="239.9" y="417.4" font-size="9" text-anchor="middle" font-family='"Liberation Sans", sans-serif' font-weight="normal" fill="#1a1a1a" stroke="#1a1a1a" stroke-width="0.12" >100</text>
<text x="30.4" y="409.4" font-size="9" text-anchor="end" font-family='"Liberation Sans", sans-serif' font-weight="normal" fill="#1a1a1a" stroke="#1a1a1a" stroke-width="0.12" >0</text>
<text x="30.4" y="393.99" font-size="9" text-anchor="end" font-family='"Liberation Sans", sans-serif' font-weight="normal" fill="#1a1a1a" stroke="#1a1a1a" stroke-width="0.12" >10</text>
<text x="30.4" y="378.58" font-size="9" text-anchor="end" font-family='"Liberation Sans", sans-serif' font-weight="normal" fill="#1a1a1a" stroke="#1a1a1a" stroke-width="0.12" >20</text>
<text x="30.4" y="363.17" font-size="9" text-anchor="end" font-family='"Liberation Sans", sans-serif' font-weight="normal" fill="#1a1a1a" stroke="#1a1a1a" stroke-width="0.12" >30</text>
<text x="30.4" y="347.76" font-size="9" text-anchor="end" font-family='"Liberation Sans", sans-serif' font-weight="normal" fill="#1a1a1a" stroke="#1a1a1a" stroke-width="0.12" >40</text>
<text x="30.4" y="332.35" font-size="9" text-anchor="end" font-family='"Liberation Sans", sans-serif' font-weight="normal" fill="#1a1a1a" stroke="#1a1a1a" stroke-width="0.12" >50</text>
<text x="30.4" y="316.94" font-size="9" text-anchor="end" font-family='"Liberation Sans", sans-serif' font-weight="normal" fill="#1a1a1a" stroke="#1a1a1a" stroke-width="0.12" >60</text>
<text x="30.4" y="301.53" font-size="9" text-anchor="end" font-family='"Liberation Sans", sans-serif' font-weight="normal" fill="#1a1a1a" stroke="#1a1a1a" stroke-width="0.12" >70</text>
<text x="30.4" y="286.12" font-size="9" text-anchor="end" font-family='"Liberation Sans", sans-serif' font-weight="normal" fill="#1a1a1a" stroke="#1a1a1a" stroke-width="0.12" >80</text>
<text x="30.4" y="270.71" font-size="9" text-anchor="end" font-family='"Liberation Sans", sans-serif' font-weight="normal" fill="#1a1a1a" stroke="#1a1a1a" stroke-width="0.12" >90</text>
<text x="30.4" y="255.3" font-size="9" text-anchor="end" font-family='"Liberation Sans", sans-serif' font-weight="normal" fill="#1a1a1a" stroke="#1a1a1a" stroke-width="0.12" >100</text>
<text x="142" y="245.6" font-size="25" text-anchor="middle" font-family='"Liberation Serif", serif' font-weight="bold" fill="#000" >C</text>
<text x="141" y="436.5" font-size="14" text-anchor="middle" font-family='"Liberation Sans", sans-serif' font-weight="normal" fill="#1a1a1a" stroke="#1a1a1a" stroke-width="0.1" >Release Time/h</text>
<text transform="translate(10.5,327.7) rotate(-90) scale(0.89,1)" font-size="11.2" text-anchor="middle" font-family='"Liberation Sans", sans-serif' fill="#1a1a1a" stroke="#1a1a1a" stroke-width="0.2">BSA Cumulative Release Percentage%</text>
<polyline points="34.4,405.43 36.45,402.04 38.51,399.73 42.62,392.95 46.73,389.56 50.84,383.39 54.95,380.31 59.06,372.3 83.72,372.3 133.04,369.52 182.36,363.36 231.68,352.57" fill="none" stroke="#1c1c1c" stroke-width="1.35" stroke-linejoin="round"/>
<line x1="34.4" y1="406.2" x2="34.4" y2="404.66" stroke="#1c1c1c" stroke-width="1.2" />
<line x1="32.2" y1="406.2" x2="36.6" y2="406.2" stroke="#1c1c1c" stroke-width="1.2" />
<line x1="32.2" y1="404.66" x2="36.6" y2="404.66" stroke="#1c1c1c" stroke-width="1.2" />
<line x1="36.45" y1="403.58" x2="36.45" y2="400.5" stroke="#1c1c1c" stroke-width="1.2" />
<line x1="34.25" y1="403.58" x2="38.66" y2="403.58" stroke="#1c1c1c" stroke-width="1.2" />
<line x1="34.25" y1="400.5" x2="38.66" y2="400.5" stroke="#1c1c1c" stroke-width="1.2" />
<line x1="38.51" y1="401.27" x2="38.51" y2="398.19" stroke="#1c1c1c" stroke-width="1.2" />
<line x1="36.31" y1="401.27" x2="40.71" y2="401.27" stroke="#1c1c1c" stroke-width="1.2" />
<line x1="36.31" y1="398.19" x2="40.71" y2="398.19" stroke="#1c1c1c" stroke-width="1.2" />
<line x1="42.62" y1="394.49" x2="42.62" y2="391.41" stroke="#1c1c1c" stroke-width="1.2" />
<line x1="40.42" y1="394.49" x2="44.82" y2="394.49" stroke="#1c1c1c" stroke-width="1.2" />
<line x1="40.42" y1="391.41" x2="44.82" y2="391.41" stroke="#1c1c1c" stroke-width="1.2" />
<line x1="46.73" y1="392.64" x2="46.73" y2="386.48" stroke="#1c1c1c" stroke-width="1.2" />
<line x1="44.53" y1="392.64" x2="48.93" y2="392.64" stroke="#1c1c1c" stroke-width="1.2" />
<line x1="44.53" y1="386.48" x2="48.93" y2="386.48" stroke="#1c1c1c" stroke-width="1.2" />
<line x1="50.84" y1="384.93" x2="50.84" y2="381.85" stroke="#1c1c1c" stroke-width="1.2" />
<line x1="48.64" y1="384.93" x2="53.04" y2="384.93" stroke="#1c1c1c" stroke-width="1.2" />
<line x1="48.64" y1="381.85" x2="53.04" y2="381.85" stroke="#1c1c1c" stroke-width="1.2" />
<line x1="54.95" y1="381.85" x2="54.95" y2="378.77" stroke="#1c1c1c" stroke-width="1.2" />
<line x1="52.75" y1="381.85" x2="57.15" y2="381.85" stroke="#1c1c1c" stroke-width="1.2" />
<line x1="52.75" y1="378.77" x2="57.15" y2="378.77" stroke="#1c1c1c" stroke-width="1.2" />
<line x1="59.06" y1="376.92" x2="59.06" y2="367.68" stroke="#1c1c1c" stroke-width="1.2" />
<line x1="56.86" y1="376.92" x2="61.26" y2="376.92" stroke="#1c1c1c" stroke-width="1.2" />
<line x1="56.86" y1="367.68" x2="61.26" y2="367.68" stroke="#1c1c1c" stroke-width="1.2" />
<line x1="83.72" y1="376.92" x2="83.72" y2="367.68" stroke="#1c1c1c" stroke-width="1.2" />
<line x1="81.52" y1="376.92" x2="85.92" y2="376.92" stroke="#1c1c1c" stroke-width="1.2" />
<line x1="81.52" y1="367.68" x2="85.92" y2="367.68" stroke="#1c1c1c" stroke-width="1.2" />
<line x1="133.04" y1="371.84" x2="133.04" y2="367.21" stroke="#1c1c1c" stroke-width="1.2" />
<line x1="130.84" y1="371.84" x2="135.24" y2="371.84" stroke="#1c1c1c" stroke-width="1.2" />
<line x1="130.84" y1="367.21" x2="135.24" y2="367.21" stroke="#1c1c1c" stroke-width="1.2" />
<line x1="182.36" y1="367.21" x2="182.36" y2="359.51" stroke="#1c1c1c" stroke-width="1.2" />
<line x1="180.16" y1="367.21" x2="184.56" y2="367.21" stroke="#1c1c1c" stroke-width="1.2" />
<line x1="180.16" y1="359.51" x2="184.56" y2="359.51" stroke="#1c1c1c" stroke-width="1.2" />
<line x1="231.68" y1="357.2" x2="231.68" y2="347.95" stroke="#1c1c1c" stroke-width="1.2" />
<line x1="229.48" y1="357.2" x2="233.88" y2="357.2" stroke="#1c1c1c" stroke-width="1.2" />
<line x1="229.48" y1="347.95" x2="233.88" y2="347.95" stroke="#1c1c1c" stroke-width="1.2" />
<rect x="32.5" y="403.53" width="3.8" height="3.8" fill="#1c1c1c"/>
<rect x="34.55" y="400.14" width="3.8" height="3.8" fill="#1c1c1c"/>
<rect x="36.61" y="397.83" width="3.8" height="3.8" fill="#1c1c1c"/>
<rect x="40.72" y="391.05" width="3.8" height="3.8" fill="#1c1c1c"/>
<rect x="44.83" y="387.66" width="3.8" height="3.8" fill="#1c1c1c"/>
<rect x="48.94" y="381.49" width="3.8" height="3.8" fill="#1c1c1c"/>
<rect x="53.05" y="378.41" width="3.8" height="3.8" fill="#1c1c1c"/>
<rect x="57.16" y="370.4" width="3.8" height="3.8" fill="#1c1c1c"/>
<rect x="81.82" y="370.4" width="3.8" height="3.8" fill="#1c1c1c"/>
<rect x="131.14" y="367.62" width="3.8" height="3.8" fill="#1c1c1c"/>
<rect x="180.46" y="361.46" width="3.8" height="3.8" fill="#1c1c1c"/>
<rect x="229.78" y="350.67" width="3.8" height="3.8" fill="#1c1c1c"/>
<polyline points="34.4,405.43 36.45,398.65 38.51,395.26 42.62,392.95 46.73,383.39 50.84,376.92 54.95,365.06 59.06,349.49 83.72,337.16 133.04,320.21 182.36,313.74 231.68,301.41" fill="none" stroke="#e3172d" stroke-width="1.35" stroke-linejoin="round"/>
<line x1="34.4" y1="406.2" x2="34.4" y2="404.66" stroke="#e3172d" stroke-width="1.2" />
<line x1="32.2" y1="406.2" x2="36.6" y2="406.2" stroke="#e3172d" stroke-width="1.2" />
<line x1="32.2" y1="404.66" x2="36.6" y2="404.66" stroke="#e3172d" stroke-width="1.2" />
<line x1="36.45" y1="400.19" x2="36.45" y2="397.11" stroke="#e3172d" stroke-width="1.2" />
<line x1="34.25" y1="400.19" x2="38.66" y2="400.19" stroke="#e3172d" stroke-width="1.2" />
<line x1="34.25" y1="397.11" x2="38.66" y2="397.11" stroke="#e3172d" stroke-width="1.2" />
<line x1="38.51" y1="397.57" x2="38.51" y2="392.95" stroke="#e3172d" stroke-width="1.2" />
<line x1="36.31" y1="397.57" x2="40.71" y2="397.57" stroke="#e3172d" stroke-width="1.2" />
<line x1="36.31" y1="392.95" x2="40.71" y2="392.95" stroke="#e3172d" stroke-width="1.2" />
<line x1="42.62" y1="394.49" x2="42.62" y2="391.41" stroke="#e3172d" stroke-width="1.2" />
<line x1="40.42" y1="394.49" x2="44.82" y2="394.49" stroke="#e3172d" stroke-width="1.2" />
<line x1="40.42" y1="391.41" x2="44.82" y2="391.41" stroke="#e3172d" stroke-width="1.2" />
<line x1="46.73" y1="386.48" x2="46.73" y2="380.31" stroke="#e3172d" stroke-width="1.2" />
<line x1="44.53" y1="386.48" x2="48.93" y2="386.48" stroke="#e3172d" stroke-width="1.2" />
<line x1="44.53" y1="380.31" x2="48.93" y2="380.31" stroke="#e3172d" stroke-width="1.2" />
<line x1="50.84" y1="378.46" x2="50.84" y2="375.38" stroke="#e3172d" stroke-width="1.2" />
<line x1="48.64" y1="378.46" x2="53.04" y2="378.46" stroke="#e3172d" stroke-width="1.2" />
<line x1="48.64" y1="375.38" x2="53.04" y2="375.38" stroke="#e3172d" stroke-width="1.2" />
<line x1="54.95" y1="368.91" x2="54.95" y2="361.2" stroke="#e3172d" stroke-width="1.2" />
<line x1="52.75" y1="368.91" x2="57.15" y2="368.91" stroke="#e3172d" stroke-width="1.2" />
<line x1="52.75" y1="361.2" x2="57.15" y2="361.2" stroke="#e3172d" stroke-width="1.2" />
<line x1="59.06" y1="351.03" x2="59.06" y2="347.95" stroke="#e3172d" stroke-width="1.2" />
<line x1="56.86" y1="351.03" x2="61.26" y2="351.03" stroke="#e3172d" stroke-width="1.2" />
<line x1="56.86" y1="347.95" x2="61.26" y2="347.95" stroke="#e3172d" stroke-width="1.2" />
<line x1="83.72" y1="338.7" x2="83.72" y2="335.62" stroke="#e3172d" stroke-width="1.2" />
<line x1="81.52" y1="338.7" x2="85.92" y2="338.7" stroke="#e3172d" stroke-width="1.2" />
<line x1="81.52" y1="335.62" x2="85.92" y2="335.62" stroke="#e3172d" stroke-width="1.2" />
<line x1="133.04" y1="324.06" x2="133.04" y2="316.36" stroke="#e3172d" stroke-width="1.2" />
<line x1="130.84" y1="324.06" x2="135.24" y2="324.06" stroke="#e3172d" stroke-width="1.2" />
<line x1="130.84" y1="316.36" x2="135.24" y2="316.36" stroke="#e3172d" stroke-width="1.2" />
<line x1="182.36" y1="315.28" x2="182.36" y2="312.2" stroke="#e3172d" stroke-width="1.2" />
<line x1="180.16" y1="315.28" x2="184.56" y2="315.28" stroke="#e3172d" stroke-width="1.2" />
<line x1="180.16" y1="312.2" x2="184.56" y2="312.2" stroke="#e3172d" stroke-width="1.2" />
<line x1="231.68" y1="305.26" x2="231.68" y2="297.56" stroke="#e3172d" stroke-width="1.2" />
<line x1="229.48" y1="305.26" x2="233.88" y2="305.26" stroke="#e3172d" stroke-width="1.2" />
<line x1="229.48" y1="297.56" x2="233.88" y2="297.56" stroke="#e3172d" stroke-width="1.2" />
<circle cx="34.4" cy="405.43" r="2.1" fill="#e3172d"/>
<circle cx="36.45" cy="398.65" r="2.1" fill="#e3172d"/>
<circle cx="38.51" cy="395.26" r="2.1" fill="#e3172d"/>
<circle cx="42.62" cy="392.95" r="2.1" fill="#e3172d"/>
<circle cx="46.73" cy="383.39" r="2.1" fill="#e3172d"/>
<circle cx="50.84" cy="376.92" r="2.1" fill="#e3172d"/>
<circle cx="54.95" cy="365.06" r="2.1" fill="#e3172d"/>
<circle cx="59.06" cy="349.49" r="2.1" fill="#e3172d"/>
<circle cx="83.72" cy="337.16" r="2.1" fill="#e3172d"/>
<circle cx="133.04" cy="320.21" r="2.1" fill="#e3172d"/>
<circle cx="182.36" cy="313.74" r="2.1" fill="#e3172d"/>
<circle cx="231.68" cy="301.41" r="2.1" fill="#e3172d"/>
<line x1="155.5" y1="261.9" x2="174.7" y2="261.9" stroke="#e3172d" stroke-width="1.2" />
<circle cx="165.1" cy="261.9" r="2.35" fill="#e3172d"/>
<text x="176.5" y="265.32" font-size="9.5" text-anchor="start" font-family='"Liberation Sans", sans-serif' font-weight="normal" fill="#1a1a1a" stroke="#1a1a1a" stroke-width="0.3" >DAMSN(50°C, 6h)</text>
<line x1="155.5" y1="275.2" x2="174.7" y2="275.2" stroke="#1c1c1c" stroke-width="1.2" />
<rect x="163.1" y="273.2" width="4" height="4" fill="#1c1c1c"/>
<text x="176.5" y="278.62" font-size="9.5" text-anchor="start" font-family='"Liberation Sans", sans-serif' font-weight="normal" fill="#1a1a1a" stroke="#1a1a1a" stroke-width="0.3" >DAMSN(60°C, 10h)</text>
<line x1="312.6" y1="253.8" x2="312.6" y2="408.3" stroke="#2a2a2a" stroke-width="1.4" />
<line x1="542.8" y1="253.8" x2="542.8" y2="409" stroke="#2a2a2a" stroke-width="1.4" />
<line x1="311.9" y1="253.8" x2="424.8" y2="253.8" stroke="#2a2a2a" stroke-width="1.4" />
<line x1="430.6" y1="253.8" x2="543.5" y2="253.8" stroke="#2a2a2a" stroke-width="1.4" />
<line x1="422.8" y1="257" x2="426.8" y2="250.6" stroke="#2a2a2a" stroke-width="1.1"/>
<line x1="428.6" y1="257" x2="432.6" y2="250.6" stroke="#2a2a2a" stroke-width="1.1"/>
<line x1="311.9" y1="408.3" x2="424.8" y2="408.3" stroke="#2a2a2a" stroke-width="1.4" />
<line x1="430.6" y1="408.3" x2="543.5" y2="408.3" stroke="#2a2a2a" stroke-width="1.4" />
<line x1="422.8" y1="411.5" x2="426.8" y2="405.1" stroke="#2a2a2a" stroke-width="1.1"/>
<line x1="428.6" y1="411.5" x2="432.6" y2="405.1" stroke="#2a2a2a" stroke-width="1.1"/>
<line x1="328.68" y1="408.3" x2="328.68" y2="405.3" stroke="#2a2a2a" stroke-width="1.0" />
<line x1="344.76" y1="408.3" x2="344.76" y2="405.3" stroke="#2a2a2a" stroke-width="1.0" />
<line x1="360.84" y1="408.3" x2="360.84" y2="405.3" stroke="#2a2a2a" stroke-width="1.0" />
<line x1="376.92" y1="408.3" x2="376.92" y2="405.3" stroke="#2a2a2a" stroke-width="1.0" />
<line x1="393" y1="408.3" x2="393" y2="405.3" stroke="#2a2a2a" stroke-width="1.0" />
<line x1="409.08" y1="408.3" x2="409.08" y2="405.3" stroke="#2a2a2a" stroke-width="1.0" />
<line x1="462" y1="408.3" x2="462" y2="405.3" stroke="#2a2a2a" stroke-width="1.0" />
<line x1="494.4" y1="408.3" x2="494.4" y2="405.3" stroke="#2a2a2a" stroke-width="1.0" />
<line x1="526.8" y1="408.3" x2="526.8" y2="405.3" stroke="#2a2a2a" stroke-width="1.0" />
<line x1="320.64" y1="408.3" x2="320.64" y2="406.3" stroke="#2a2a2a" stroke-width="1.0" />
<line x1="336.72" y1="408.3" x2="336.72" y2="406.3" stroke="#2a2a2a" stroke-width="1.0" />
<line x1="352.8" y1="408.3" x2="352.8" y2="406.3" stroke="#2a2a2a" stroke-width="1.0" />
<line x1="368.88" y1="408.3" x2="368.88" y2="406.3" stroke="#2a2a2a" stroke-width="1.0" />
<line x1="384.96" y1="408.3" x2="384.96" y2="406.3" stroke="#2a2a2a" stroke-width="1.0" />
<line x1="401.04" y1="408.3" x2="401.04" y2="406.3" stroke="#2a2a2a" stroke-width="1.0" />
<line x1="417.12" y1="408.3" x2="417.12" y2="406.3" stroke="#2a2a2a" stroke-width="1.0" />
<line x1="445.8" y1="408.3" x2="445.8" y2="406.3" stroke="#2a2a2a" stroke-width="1.0" />
<line x1="478.2" y1="408.3" x2="478.2" y2="406.3" stroke="#2a2a2a" stroke-width="1.0" />
<line x1="510.6" y1="408.3" x2="510.6" y2="406.3" stroke="#2a2a2a" stroke-width="1.0" />
<line x1="312.6" y1="369.68" x2="315.6" y2="369.68" stroke="#2a2a2a" stroke-width="1.0" />
<line x1="312.6" y1="331.05" x2="315.6" y2="331.05" stroke="#2a2a2a" stroke-width="1.0" />
<line x1="312.6" y1="292.43" x2="315.6" y2="292.43" stroke="#2a2a2a" stroke-width="1.0" />
<line x1="312.6" y1="388.99" x2="314.6" y2="388.99" stroke="#2a2a2a" stroke-width="1.0" />
<line x1="312.6" y1="350.36" x2="314.6" y2="350.36" stroke="#2a2a2a" stroke-width="1.0" />
<line x1="312.6" y1="311.74" x2="314.6" y2="311.74" stroke="#2a2a2a" stroke-width="1.0" />
<line x1="312.6" y1="273.11" x2="314.6" y2="273.11" stroke="#2a2a2a" stroke-width="1.0" />
<text x="312.6" y="419" font-size="9" text-anchor="middle" font-family='"Liberation Sans", sans-serif' font-weight="normal" fill="#1a1a1a" stroke="#1a1a1a" stroke-width="0.12" >0</text>
<text x="328.68" y="419" font-size="9" text-anchor="middle" font-family='"Liberation Sans", sans-serif' font-weight="normal" fill="#1a1a1a" stroke="#1a1a1a" stroke-width="0.12" >4</text>
<text x="344.76" y="419" font-size="9" text-anchor="middle" font-family='"Liberation Sans", sans-serif' font-weight="normal" fill="#1a1a1a" stroke="#1a1a1a" stroke-width="0.12" >8</text>
<text x="360.84" y="419" font-size="9" text-anchor="middle" font-family='"Liberation Sans", sans-serif' font-weight="normal" fill="#1a1a1a" stroke="#1a1a1a" stroke-width="0.12" >12</text>
<text x="376.92" y="419" font-size="9" text-anchor="middle" font-family='"Liberation Sans", sans-serif' font-weight="normal" fill="#1a1a1a" stroke="#1a1a1a" stroke-width="0.12" >16</text>
<text x="393" y="419" font-size="9" text-anchor="middle" font-family='"Liberation Sans", sans-serif' font-weight="normal" fill="#1a1a1a" stroke="#1a1a1a" stroke-width="0.12" >20</text>
<text x="409.08" y="419" font-size="9" text-anchor="middle" font-family='"Liberation Sans", sans-serif' font-weight="normal" fill="#1a1a1a" stroke="#1a1a1a" stroke-width="0.12" >24</text>
<text x="429.6" y="419" font-size="9" text-anchor="middle" font-family='"Liberation Sans", sans-serif' font-weight="normal" fill="#1a1a1a" stroke="#1a1a1a" stroke-width="0.12" >40</text>
<text x="462" y="419" font-size="9" text-anchor="middle" font-family='"Liberation Sans", sans-serif' font-weight="normal" fill="#1a1a1a" stroke="#1a1a1a" stroke-width="0.12" >60</text>
<text x="494.4" y="419" font-size="9" text-anchor="middle" font-family='"Liberation Sans", sans-serif' font-weight="normal" fill="#1a1a1a" stroke="#1a1a1a" stroke-width="0.12" >80</text>
<text x="526.8" y="419" font-size="9" text-anchor="middle" font-family='"Liberation Sans", sans-serif' font-weight="normal" fill="#1a1a1a" stroke="#1a1a1a" stroke-width="0.12" >100</text>
<text x="309" y="411.5" font-size="9" text-anchor="end" font-family='"Liberation Sans", sans-serif' font-weight="normal" fill="#1a1a1a" stroke="#1a1a1a" stroke-width="0.12" >0</text>
<text x="309" y="372.88" font-size="9" text-anchor="end" font-family='"Liberation Sans", sans-serif' font-weight="normal" fill="#1a1a1a" stroke="#1a1a1a" stroke-width="0.12" >10</text>
<text x="309" y="334.25" font-size="9" text-anchor="end" font-family='"Liberation Sans", sans-serif' font-weight="normal" fill="#1a1a1a" stroke="#1a1a1a" stroke-width="0.12" >20</text>
<text x="309" y="295.62" font-size="9" text-anchor="end" font-family='"Liberation Sans", sans-serif' font-weight="normal" fill="#1a1a1a" stroke="#1a1a1a" stroke-width="0.12" >30</text>
<text x="309" y="257" font-size="9" text-anchor="end" font-family='"Liberation Sans", sans-serif' font-weight="normal" fill="#1a1a1a" stroke="#1a1a1a" stroke-width="0.12" >40</text>
<text x="425.2" y="245.5" font-size="25" text-anchor="middle" font-family='"Liberation Serif", serif' font-weight="bold" fill="#000" >D</text>
<text x="411.3" y="437.6" font-size="14" text-anchor="middle" font-family='"Liberation Sans", sans-serif' font-weight="normal" fill="#1a1a1a" stroke="#1a1a1a" stroke-width="0.1" >Release Time/h</text>
<text transform="translate(292,328.3) rotate(-90) scale(0.96,1)" font-size="11.02" text-anchor="middle" font-family='"Liberation Sans", sans-serif' fill="#1a1a1a" stroke="#1a1a1a" stroke-width="0.2">IBU Cumulative Release Percentage%</text>
<polyline points="312.6,407.91 328.68,408.3 344.76,408.3 360.84,407.14 409.08,393.24 425.5,372.21" fill="none" stroke="#1c1c1c" stroke-width="1.35" stroke-linejoin="round"/>
<polyline points="429.5,367.09 442.56,350.36 481.44,341.87 520.32,327.19" fill="none" stroke="#1c1c1c" stroke-width="1.35" stroke-linejoin="round"/>
<line x1="344.76" y1="408.3" x2="344.76" y2="402.12" stroke="#1c1c1c" stroke-width="1.2" />
<line x1="342.56" y1="408.3" x2="346.96" y2="408.3" stroke="#1c1c1c" stroke-width="1.2" />
<line x1="342.56" y1="402.12" x2="346.96" y2="402.12" stroke="#1c1c1c" stroke-width="1.2" />
<line x1="360.84" y1="408.3" x2="360.84" y2="397.1" stroke="#1c1c1c" stroke-width="1.2" />
<line x1="358.64" y1="408.3" x2="363.04" y2="408.3" stroke="#1c1c1c" stroke-width="1.2" />
<line x1="358.64" y1="397.1" x2="363.04" y2="397.1" stroke="#1c1c1c" stroke-width="1.2" />
<line x1="409.08" y1="401.73" x2="409.08" y2="384.74" stroke="#1c1c1c" stroke-width="1.2" />
<line x1="406.88" y1="401.73" x2="411.28" y2="401.73" stroke="#1c1c1c" stroke-width="1.2" />
<line x1="406.88" y1="384.74" x2="411.28" y2="384.74" stroke="#1c1c1c" stroke-width="1.2" />
<line x1="442.56" y1="356.16" x2="442.56" y2="344.57" stroke="#1c1c1c" stroke-width="1.2" />
<line x1="440.36" y1="356.16" x2="444.76" y2="356.16" stroke="#1c1c1c" stroke-width="1.2" />
<line x1="440.36" y1="344.57" x2="444.76" y2="344.57" stroke="#1c1c1c" stroke-width="1.2" />
<line x1="481.44" y1="349.59" x2="481.44" y2="334.14" stroke="#1c1c1c" stroke-width="1.2" />
<line x1="479.24" y1="349.59" x2="483.64" y2="349.59" stroke="#1c1c1c" stroke-width="1.2" />
<line x1="479.24" y1="334.14" x2="483.64" y2="334.14" stroke="#1c1c1c" stroke-width="1.2" />
<line x1="520.32" y1="334.91" x2="520.32" y2="319.46" stroke="#1c1c1c" stroke-width="1.2" />
<line x1="518.12" y1="334.91" x2="522.52" y2="334.91" stroke="#1c1c1c" stroke-width="1.2" />
<line x1="518.12" y1="319.46" x2="522.52" y2="319.46" stroke="#1c1c1c" stroke-width="1.2" />
<rect x="310.7" y="406.01" width="3.8" height="3.8" fill="#1c1c1c"/>
<rect x="326.78" y="406.4" width="3.8" height="3.8" fill="#1c1c1c"/>
<rect x="342.86" y="406.4" width="3.8" height="3.8" fill="#1c1c1c"/>
<rect x="358.94" y="405.24" width="3.8" height="3.8" fill="#1c1c1c"/>
<rect x="407.18" y="391.34" width="3.8" height="3.8" fill="#1c1c1c"/>
<rect x="440.66" y="348.46" width="3.8" height="3.8" fill="#1c1c1c"/>
<rect x="479.54" y="339.97" width="3.8" height="3.8" fill="#1c1c1c"/>
<rect x="518.42" y="325.29" width="3.8" height="3.8" fill="#1c1c1c"/>
<polyline points="312.6,406.37 320.64,406.37 328.68,407.14 344.76,406.37 360.84,397.1 409.08,346.5 425.5,338.92" fill="none" stroke="#e3172d" stroke-width="1.35" stroke-linejoin="round"/>
<polyline points="429.5,337.08 442.56,331.05 481.44,311.74 520.32,304.01" fill="none" stroke="#e3172d" stroke-width="1.35" stroke-linejoin="round"/>
<line x1="409.08" y1="351.52" x2="409.08" y2="341.48" stroke="#e3172d" stroke-width="1.2" />
<line x1="406.88" y1="351.52" x2="411.28" y2="351.52" stroke="#e3172d" stroke-width="1.2" />
<line x1="406.88" y1="341.48" x2="411.28" y2="341.48" stroke="#e3172d" stroke-width="1.2" />
<line x1="442.56" y1="336.84" x2="442.56" y2="325.26" stroke="#e3172d" stroke-width="1.2" />
<line x1="440.36" y1="336.84" x2="444.76" y2="336.84" stroke="#e3172d" stroke-width="1.2" />
<line x1="440.36" y1="325.26" x2="444.76" y2="325.26" stroke="#e3172d" stroke-width="1.2" />
<line x1="481.44" y1="315.6" x2="481.44" y2="307.88" stroke="#e3172d" stroke-width="1.2" />
<line x1="479.24" y1="315.6" x2="483.64" y2="315.6" stroke="#e3172d" stroke-width="1.2" />
<line x1="479.24" y1="307.88" x2="483.64" y2="307.88" stroke="#e3172d" stroke-width="1.2" />
<line x1="520.32" y1="309.03" x2="520.32" y2="298.99" stroke="#e3172d" stroke-width="1.2" />
<line x1="518.12" y1="309.03" x2="522.52" y2="309.03" stroke="#e3172d" stroke-width="1.2" />
<line x1="518.12" y1="298.99" x2="522.52" y2="298.99" stroke="#e3172d" stroke-width="1.2" />
<circle cx="312.6" cy="406.37" r="2.1" fill="#e3172d"/>
<circle cx="320.64" cy="406.37" r="2.1" fill="#e3172d"/>
<circle cx="328.68" cy="407.14" r="2.1" fill="#e3172d"/>
<circle cx="344.76" cy="406.37" r="2.1" fill="#e3172d"/>
<circle cx="360.84" cy="397.1" r="2.1" fill="#e3172d"/>
<circle cx="409.08" cy="346.5" r="2.1" fill="#e3172d"/>
<circle cx="442.56" cy="331.05" r="2.1" fill="#e3172d"/>
<circle cx="481.44" cy="311.74" r="2.1" fill="#e3172d"/>
<circle cx="520.32" cy="304.01" r="2.1" fill="#e3172d"/>
<line x1="439.5" y1="262" x2="456.5" y2="262" stroke="#e3172d" stroke-width="1.2" />
<circle cx="448" cy="262" r="2.35" fill="#e3172d"/>
<text x="459.5" y="265.42" font-size="9.5" text-anchor="start" font-family='"Liberation Sans", sans-serif' font-weight="normal" fill="#1a1a1a" stroke="#1a1a1a" stroke-width="0.3" >DAMSN(50°C, 6h)</text>
<line x1="439.5" y1="275.4" x2="456.5" y2="275.4" stroke="#1c1c1c" stroke-width="1.2" />
<rect x="446" y="273.4" width="4" height="4" fill="#1c1c1c"/>
<text x="459.5" y="278.82" font-size="9.5" text-anchor="start" font-family='"Liberation Sans", sans-serif' font-weight="normal" fill="#1a1a1a" stroke="#1a1a1a" stroke-width="0.3" >DAMSN(60°C, 10h)</text>
</svg>
</body></html>
